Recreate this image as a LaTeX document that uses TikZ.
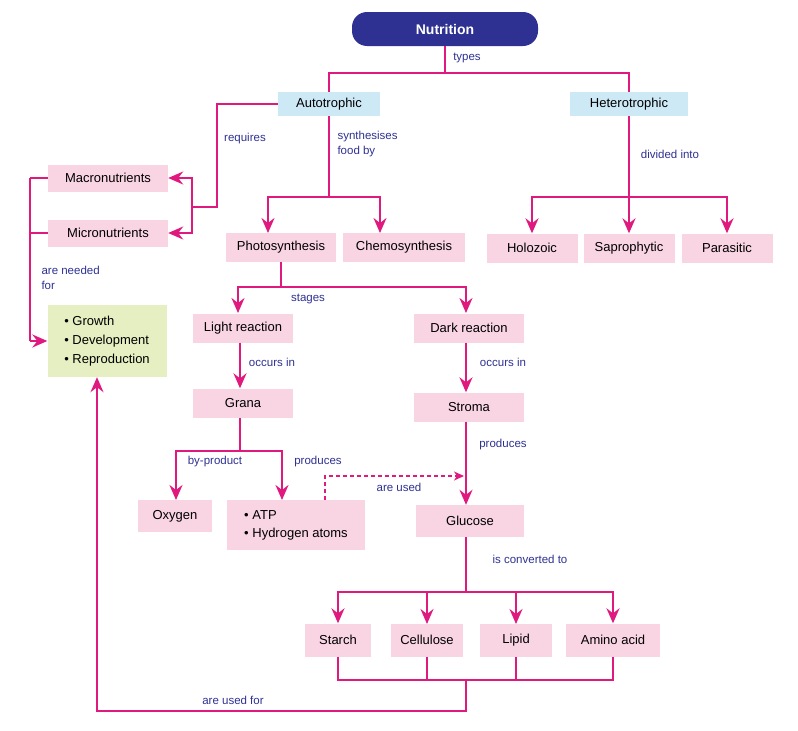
\documentclass[tikz,border=0pt]{standalone}
\usepackage{fontspec}
\setmainfont{Liberation Sans}
\usetikzlibrary{arrows.meta}
\definecolor{linkpink}{HTML}{E0197F}
\definecolor{boxpink}{HTML}{F9D4E3}
\definecolor{boxblue}{HTML}{CDE9F6}
\definecolor{boxgreen}{HTML}{E6EFC2}
\definecolor{labelblue}{HTML}{2E3192}
\tikzset{
  box/.style={fill=boxpink, minimum height=29pt, inner sep=0pt, font=\fontsize{13}{16}\selectfont},
  topbox/.style={fill=boxblue, minimum height=24pt, inner sep=0pt, font=\fontsize{13}{16}\selectfont},
  link/.style={draw=linkpink, line width=2pt},
  arr/.style={link, -{Stealth[length=15pt,width=13pt,inset=5pt]}},
  lbl/.style={text=labelblue, font=\fontsize{11.5}{15}\selectfont, align=left},
}
\begin{document}
\begin{tikzpicture}[x=1pt,y=-1pt]
		\useasboundingbox (0,0) rectangle (798,731);

		\node[fill=labelblue, rounded corners=15pt, minimum width=186pt, minimum height=34pt, text=white, font=\fontsize{14}{16}\selectfont\bfseries] (nutr) at (445,29) {Nutrition};
		\node[topbox, minimum width=102pt] (auto) at (329,104) {Autotrophic};
		\node[topbox, minimum width=118pt] (hetero) at (629,104) {Heterotrophic};

		\node[box, minimum width=120pt, minimum height=27pt] (macro) at (108,178) {Macronutrients};
		\node[box, minimum width=120pt, minimum height=27pt] (micro) at (108,233) {Micronutrients};
		\node[fill=boxgreen, minimum width=119pt, minimum height=72pt, inner sep=0pt, align=left, font=\fontsize{13}{19}\selectfont] (needs) at (107,341) {\textbullet\ Growth\\\textbullet\ Development\\\textbullet\ Reproduction};

		\node[box, minimum width=110pt] (photo) at (281,247) {Photosynthesis};
		\node[box, minimum width=122pt] (chemo) at (404,247) {Chemosynthesis};
		\node[box, minimum width=91pt] (holo) at (532,248) {Holozoic};
		\node[box, minimum width=91pt] (sapro) at (629,248) {Saprophytic};
		\node[box, minimum width=91pt] (para) at (727,248) {Parasitic};

		\node[box, minimum width=100pt] (light) at (243,328) {Light reaction};
		\node[box, minimum width=110pt] (dark) at (469,328) {Dark reaction};
		\node[box, minimum width=100pt] (grana) at (243,403) {Grana};
		\node[box, minimum width=110pt] (stroma) at (469,407) {Stroma};
		\node[box, minimum width=74pt, minimum height=32pt] (oxy) at (175,516) {Oxygen};
		\node[box, minimum width=138pt, minimum height=50pt, align=left, font=\fontsize{13}{18}\selectfont] (atp) at (296,525) {\textbullet\ ATP\\\textbullet\ Hydrogen atoms};
		\node[box, minimum width=108pt, minimum height=32pt] (gluc) at (470,521) {Glucose};

		\node[box, minimum width=66pt, minimum height=33pt] (starch) at (338,640) {Starch};
		\node[box, minimum width=72pt, minimum height=33pt] (cell) at (427,640) {Cellulose};
		\node[box, minimum width=72pt, minimum height=33pt] (lipid) at (516,640) {Lipid};
		\node[box, minimum width=94pt, minimum height=33pt] (amino) at (613,640) {Amino acid};

		% top level
		\draw[link] (nutr.south) -- (445,73) coordinate (t0);
		\draw[link] (auto.north) |- (t0) -| (hetero.north);
		\node[lbl] at (467,58) {types};

		% autotrophic
		\draw[link] (auto.west) -| (217,207) -- (192,207) coordinate (r0);
		\draw[arr] (r0) |- (macro.east);
		\draw[arr] (r0) |- (micro.east);
		\node[lbl] at (245,139) {requires};
		\draw[link] (macro.west) -- (30,178) coordinate (n0);
		\draw[link] (micro.west) -- (30,233);
		\draw[link] (n0) -- (30,341);
		\draw[arr] (30,341) -- (needs.west);
		\node[lbl, anchor=north west] at (38,263) {are needed\\for};

		\draw[link] (auto.south) -- (329,197) coordinate (s0);
		\draw[arr] (s0) -| (268,233);
		\draw[arr] (s0) -| (380,233);
		\node[lbl, anchor=north west] at (334,128) {synthesises\\food by};

		% heterotrophic
		\draw[link] (hetero.south) -- (629,197) coordinate (h0);
		\draw[arr] (h0) -| (holo.north);
		\draw[arr] (h0) -- (sapro.north);
		\draw[arr] (h0) -| (para.north);
		\node[lbl] at (670,154) {divided into};

		% photosynthesis
		\draw[link] (photo.south) -- (281,287) coordinate (p0);
		\draw[arr] (p0) -| (238,313);
		\draw[arr] (p0) -| (466,313);
		\node[lbl] at (308,299) {stages};

		\draw[arr] (light.south -| 240,0) -- (grana.north -| 240,0);
		\node[lbl] at (272,362) {occurs in};
		\draw[arr] (dark.south -| 466,0) -- (stroma.north -| 466,0);
		\node[lbl] at (503,362) {occurs in};

		\draw[link] (grana.south -| 240,0) -- (240,451) coordinate (g0);
		\draw[arr] (g0) -| (176,500);
		\draw[arr] (g0) -| (282,500);
		\node[lbl] at (215,462) {by-product};
		\node[lbl] at (318,462) {produces};

		\draw[arr] (stroma.south -| 466,0) -- (gluc.north -| 466,0);
		\node[lbl] at (503,445) {produces};
		\draw[link, dash pattern=on 4pt off 3pt, line width=1.2pt, -{Stealth[length=10pt,width=9pt,inset=3pt]}] (atp.north -| 325,0) |- (464,476);
		\node[lbl] at (399,487) {are used};

		% glucose
		\draw[link] (gluc.south -| 466,0) -- (466,592) coordinate (c0);
		\draw[arr] (c0) -| (starch.north);
		\draw[arr] (c0) -| (427,624);
		\draw[arr] (c0) -| (516,624);
		\draw[arr] (c0) -| (amino.north);
		\node[lbl] at (530,559) {is converted to};

		\draw[link] (starch.south) |- (466,680) coordinate (u0);
		\draw[link] (amino.south) |- (u0);
		\draw[link] (cell.south) -- (427,680);
		\draw[link] (lipid.south) -- (516,680);
		\draw[arr] (u0) -- (466,711) -| (needs.south -| 97,0);
		\node[lbl] at (233,700) {are used for};
	\end{tikzpicture}
\end{document}
